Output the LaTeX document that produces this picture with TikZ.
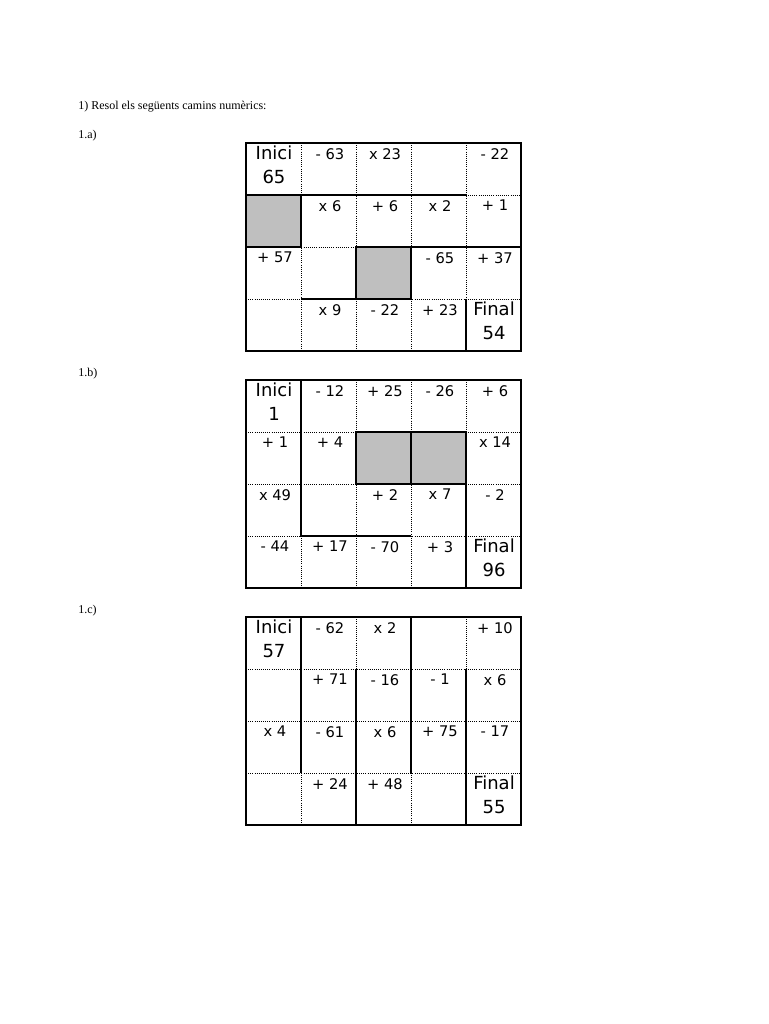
\documentclass[tikz,border=0pt]{standalone}
\usepackage{fontspec}
\setmainfont{Liberation Serif}
\newfontfamily\cf{DejaVu Sans}
\begin{document}
\begin{tikzpicture}[x=0.75pt,y=-0.75pt,
  wall/.style={line width=2pt},
  dot/.style={densely dotted,line width=0.6pt},
  op/.style={font=\cf\fontsize{11}{12}\selectfont,anchor=north,inner sep=0pt},
  big/.style={font=\cf\fontsize{13.5}{18}\selectfont,align=center,anchor=north,inner sep=0pt},
  hd/.style={font=\fontsize{9}{10}\selectfont,anchor=west,inner sep=0pt}]
\useasboundingbox (0,0) rectangle (768,1024);
\fill[white] (0,0) rectangle (768,1024);
\node[hd] (h) at (78,107) {1) Resol els següents camins numèrics:};
\node[hd] (la) at (78,136) {1.a)};
\node[hd] (lb) at (78,374) {1.b)};
\node[hd] (lc) at (78,611) {1.c)};
% grid macro: #1 = top y, #2 = cell contents list
\newcommand{\grid}[3]{%
 \begin{scope}[shift={(0,#1)}]
 \foreach \c/\r in {#2} {\fill[gray!50] (246+\c*55,\r*52) rectangle ++(55,52);}
 \foreach \i in {1,...,4} {\draw[dot] (246+\i*55,0) -- (246+\i*55,208);}
 \foreach \i in {1,2,3} {\draw[dot] (246,\i*52) -- (521,\i*52);}
 \foreach \c/\r/\t in {#3} {\node[op] at (275+\c*55,\r*52+5) {\t};}
 \end{scope}}
% ---- Grid a
\grid{143}{0/1,2/2}{1/0/- 63,2/0/x 23,3/0/\,/ 2,4/0/- 22,1/1/x 6,2/1/+ 6,3/1/x 2,4/1/+ 1,0/2/+ 57,1/2/\,/ 4,3/2/- 65,4/2/+ 37,0/3/\,/ 8,1/3/x 9,2/3/- 22,3/3/+ 23}
\node[big] (ia) at (274,146) {Inici\\65};
\node[big] (fa) at (494,302) {Final\\54};
\begin{scope}[wall]
\draw (246,143) rectangle (521,351);
\draw (246,195) -- (466,195);
\draw (301,195) -- (301,247);
\draw (246,247) -- (301,247);
\draw (356,247) -- (521,247);
\draw (356,247) rectangle (411,299);
\draw (301,299) -- (411,299);
\draw (466,299) -- (466,351);
\end{scope}
% ---- Grid b
\grid{380}{2/1,3/1}{1/0/- 12,2/0/+ 25,3/0/- 26,4/0/+ 6,0/1/+ 1,1/1/+ 4,4/1/x 14,0/2/x 49,1/2/\,/ 3,2/2/+ 2,3/2/x 7,4/2/- 2,0/3/- 44,1/3/+ 17,2/3/- 70,3/3/+ 3}
\node[big] (ib) at (274,383) {Inici\\1};
\node[big] (fb) at (494,539) {Final\\96};
\begin{scope}[wall]
\draw (246,380) rectangle (521,588);
\draw (301,380) -- (301,536) -- (411,536);
\draw (356,432) rectangle (466,484);
\draw (411,432) -- (411,484);
\draw (466,484) -- (466,588);
\end{scope}
% ---- Grid c
\grid{617}{}{1/0/- 62,2/0/x 2,3/0/\,/ 49,4/0/+ 10,0/1/\,/ 3,1/1/+ 71,2/1/- 16,3/1/- 1,4/1/x 6,0/2/x 4,1/2/- 61,2/2/x 6,3/2/+ 75,4/2/- 17,0/3/\,/ 2,1/3/+ 24,2/3/+ 48,3/3/\,/ 3}
\node[big] (ic) at (274,620) {Inici\\57};
\node[big] (fc) at (494,776) {Final\\55};
\begin{scope}[wall]
\draw (246,617) rectangle (521,825);
\draw (301,617) -- (301,773);
\draw (356,669) -- (356,825);
\draw (411,617) -- (411,773);
\draw (466,669) -- (466,825);
\end{scope}
\end{tikzpicture}
\end{document}
